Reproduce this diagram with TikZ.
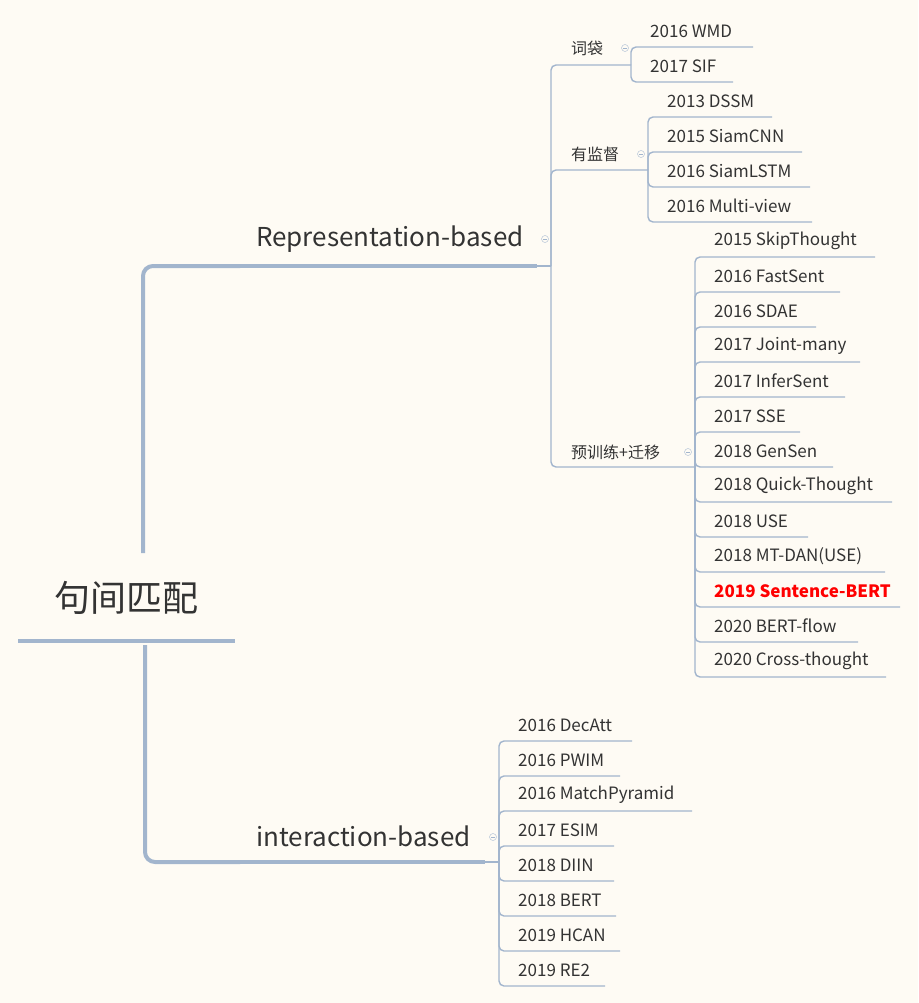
\documentclass[tikz,border=0pt]{standalone}
\usepackage{fontspec}
\setmainfont{Noto Sans CJK SC}
\definecolor{bg}{HTML}{FEFBF4}
\definecolor{ln}{HTML}{A2B5CD}
\definecolor{tx}{HTML}{333333}
\begin{document}
\begin{tikzpicture}[x=1pt,y=-1pt,
  item/.style={anchor=west,inner sep=0pt,font=\fontsize{17}{20}\selectfont,text=tx},
  lnk/.style={draw=ln,line width=1.4pt,rounded corners=5pt},
  fold/.style={circle,draw=ln!80,line width=0.5pt,minimum size=7pt,inner sep=0pt,
    path picture={\draw[ln,line width=0.5pt] ([xshift=-2pt]path picture bounding box.center)--([xshift=2pt]path picture bounding box.center);}}]
\fill[bg] (0,0) rectangle (918,1003);
\useasboundingbox (0,0) rectangle (918,1003);
% root
\node[inner sep=0pt,font=\fontsize{36}{40}\selectfont,text=tx] (root) at (126,598) {句间匹配};
\draw[ln,line width=4pt] (18,641) -- (235,641);
\coordinate (rtop) at (143,553);
\coordinate (rbot) at (145,645);
% representation
\node[item,font=\fontsize{26}{30}\selectfont] (rep) at (256,239) {Representation-based};
\coordinate (repL) at (240,266); \coordinate (repR) at (537,266);
\draw[ln,line width=4pt,rounded corners=10pt] (rtop) |- (repL);
\draw[ln,line width=4pt] (repL) -- (repR);
\node[fold] (f1) at (545,239) {};
% interaction
\node[item,font=\fontsize{26}{30}\selectfont] (int) at (256,836) {interaction-based};
\coordinate (intL) at (240,862); \coordinate (intR) at (485,862);
\draw[ln,line width=4pt,rounded corners=10pt] (rbot) |- (intL);
\draw[ln,line width=4pt] (intL) -- (intR);
\node[fold] (f2) at (493,837) {};
% level 2
\coordinate (v1) at (551,266);
\node[item,font=\fontsize{16}{20}\selectfont] (bow) at (571,48) {词袋};
\node[item,font=\fontsize{16}{20}\selectfont] (sup) at (571,154) {有监督};
\node[item,font=\fontsize{16}{20}\selectfont] (pre) at (571,452) {预训练+迁移};
\node[fold] (f3) at (625,48) {};
\node[fold] (f4) at (641,154) {};
\node[fold] (f5) at (688,452) {};
\draw[ln,line width=1.4pt] (repR) -- (v1);
\coordinate (bowE) at (631,65); \coordinate (supE) at (648,170); \coordinate (preE) at (695,467);
\foreach \e in {bowE,supE,preE} \draw[lnk] (v1) |- (\e);
% level 3 helper
\newcommand{\kid}[6]{% name, vx, parent y, text y, end x, text
  \node[item] (#1) at (#2+19,#4) {#6};
  \draw[lnk] (#2,#3) |- (#5,#4+16);}
\kid{a1}{631}{65}{31}{753}{2016 WMD}
\kid{a2}{631}{65}{66}{733}{2017 SIF}
\kid{b1}{648}{170}{101}{772}{2013 DSSM}
\kid{b2}{648}{170}{136}{802}{2015 SiamCNN}
\kid{b3}{648}{170}{171}{810}{2016 SiamLSTM}
\kid{b4}{648}{170}{206}{812}{2016 Multi-view}
\kid{c1}{695}{467}{241}{875}{2015 SkipThought}
\kid{c2}{695}{467}{276}{840}{2016 FastSent}
\kid{c3}{695}{467}{311}{816}{2016 SDAE}
\kid{c4}{695}{467}{346}{860}{2017 Joint-many}
\kid{c5}{695}{467}{381}{845}{2017 InferSent}
\kid{c6}{695}{467}{416}{800}{2017 SSE}
\kid{c7}{695}{467}{451}{833}{2018 GenSen}
\kid{c8}{695}{467}{486}{892}{2018 Quick-Thought}
\kid{c9}{695}{467}{521}{808}{2018 USE}
\kid{c10}{695}{467}{556}{885}{2018 MT-DAN(USE)}
\kid{c11}{695}{467}{591}{900}{\textcolor{red}{\bfseries 2019 Sentence-BERT}}
\kid{c12}{695}{467}{626}{858}{2020 BERT-flow}
\kid{c13}{695}{467}{661}{886}{2020 Cross-thought}
\draw[ln,line width=1.4pt] (intR) -- (499,862);
\kid{d1}{499}{862}{725}{632}{2016 DecAtt}
\kid{d2}{499}{862}{760}{620}{2016 PWIM}
\kid{d3}{499}{862}{795}{692}{2016 MatchPyramid}
\kid{d4}{499}{862}{830}{614}{2017 ESIM}
\kid{d5}{499}{862}{865}{614}{2018 DIIN}
\kid{d6}{499}{862}{900}{616}{2018 BERT}
\kid{d7}{499}{862}{935}{620}{2019 HCAN}
\kid{d8}{499}{862}{970}{605}{2019 RE2}
\end{tikzpicture}
\end{document}
